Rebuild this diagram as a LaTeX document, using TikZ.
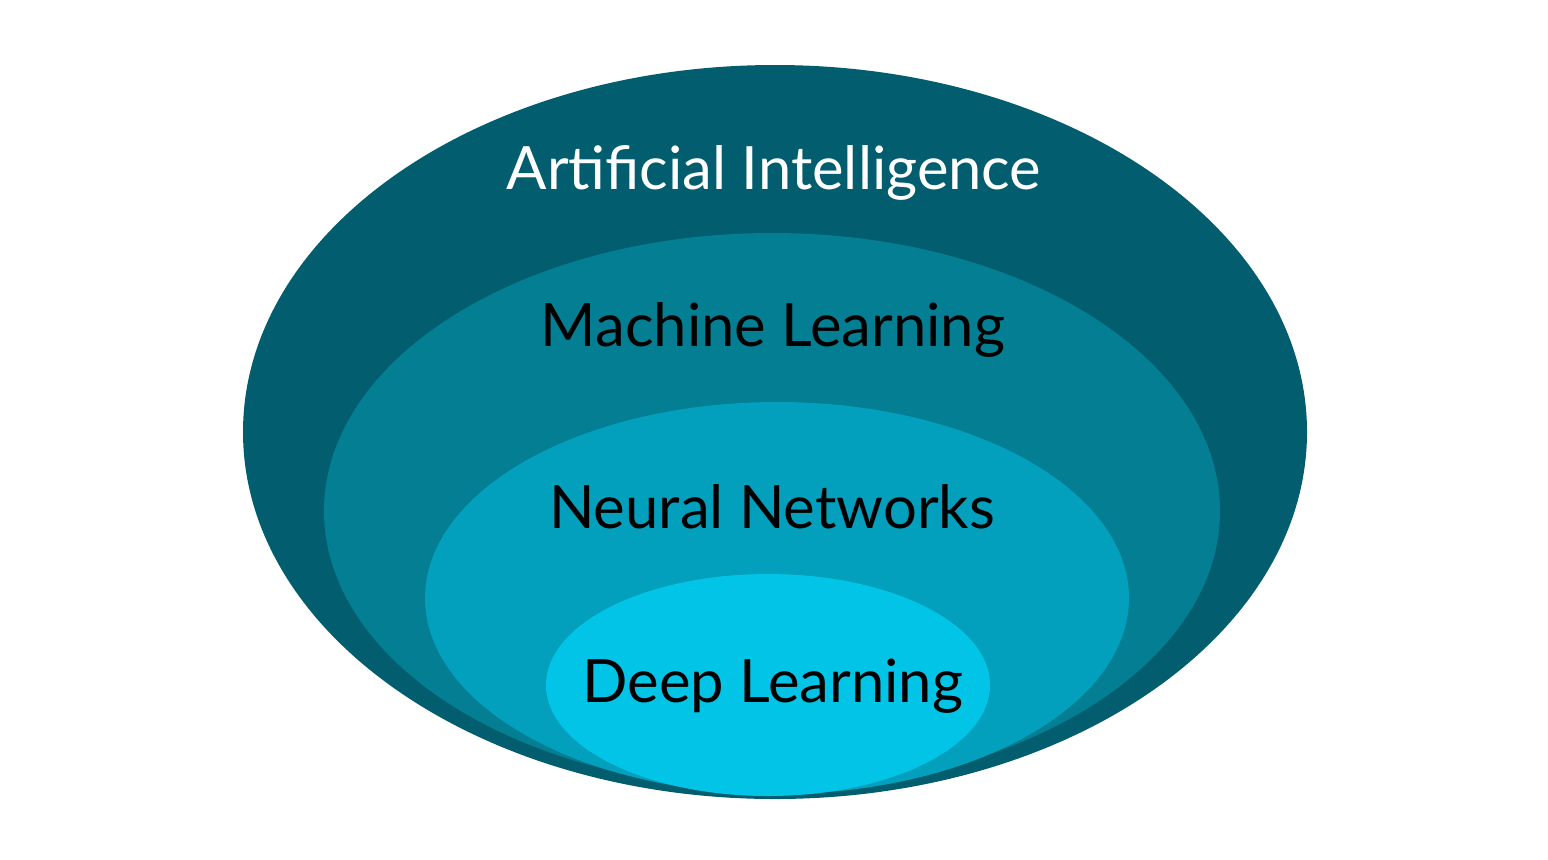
\documentclass[tikz,border=0pt]{standalone}
\usepackage{fontspec}
\setmainfont{Lato}
\usetikzlibrary{shapes.geometric,positioning}
\definecolor{aiC}{HTML}{025E6E}
\definecolor{mlC}{HTML}{037E93}
\definecolor{nnC}{HTML}{02A0BD}
\definecolor{dlC}{HTML}{02C4E6}
\begin{document}
\begin{tikzpicture}[x=1cm,y=1cm,
        layer/.style={ellipse,draw=none,inner sep=0pt},
        lbl/.style={font=\fontsize{17}{20}\selectfont}]
        \useasboundingbox (0,0) rectangle (15.48,8.59);
        % Layers
        \node[layer,fill=aiC,minimum width=10.64cm,minimum height=7.34cm] (ai) at (7.75,4.27) {};
        \node[layer,fill=mlC,minimum width=8.96cm,minimum height=5.56cm] (ml) at (7.72,3.48) {};
        \node[layer,fill=nnC,minimum width=7.04cm,minimum height=3.92cm] (nn) at (7.77,2.61) {};
        \node[layer,fill=dlC,minimum width=4.44cm,minimum height=2.22cm] (dl) at (7.68,1.74) {};
        % Labels
        \node[lbl,text=white] (tai) at (7.74,6.86) {Artificial Intelligence};
        \node[lbl] (tml) at (7.73,5.29) {Machine Learning};
        \node[lbl] (tnn) at (7.72,3.52) {Neural Networks};
        \node[lbl] (tdl) at (7.73,1.73) {Deep Learning};
\end{tikzpicture}
\end{document}
